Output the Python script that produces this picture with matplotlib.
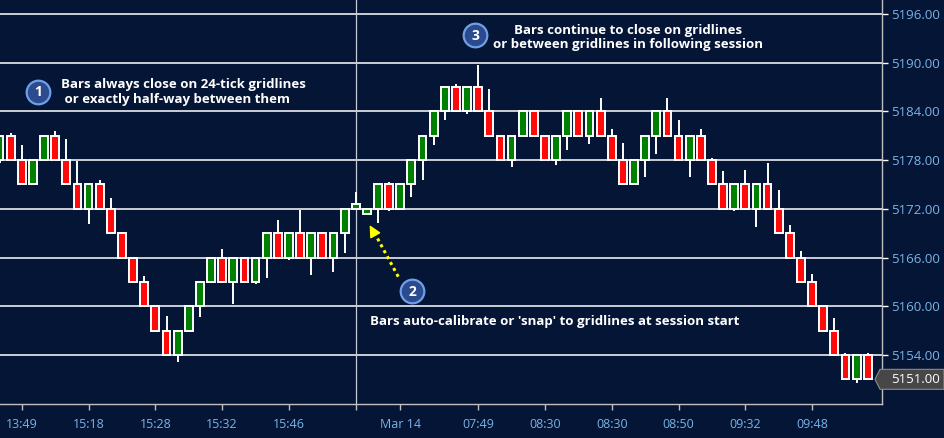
import matplotlib
matplotlib.use('Agg')
import matplotlib.pyplot as plt
import matplotlib.transforms as mtransforms
from matplotlib.patches import Polygon

# bar data (one entry per bar)
opens = [5178, 5181, 5178, 5175, 5178, 5181, 5178, 5175, 5172, 5175,
         5172, 5169, 5166, 5163, 5160, 5157, 5154, 5157, 5160, 5163,
         5166, 5163, 5166, 5163, 5166, 5169, 5166, 5169, 5166, 5169,
         5166, 5169, 5172, 5171.4, 5172, 5175, 5172, 5175, 5178, 5181,
         5184, 5187, 5184, 5187, 5184, 5181, 5178, 5181, 5184, 5181,
         5178, 5181, 5184, 5181, 5184, 5181, 5178, 5175, 5178, 5181,
         5184, 5181, 5178, 5181, 5178, 5175, 5172, 5175, 5172, 5175,
         5172, 5169, 5166, 5163, 5160, 5157, 5154, 5151, 5154]
closes = [5181, 5178, 5175, 5178, 5181, 5178, 5175, 5172, 5175, 5172,
          5169, 5166, 5163, 5160, 5157, 5154, 5157, 5160, 5163, 5166,
          5163, 5166, 5163, 5166, 5169, 5166, 5169, 5166, 5169, 5166,
          5169, 5172, 5172.6, 5172, 5175, 5172, 5175, 5178, 5181, 5184,
          5187, 5184, 5187, 5184, 5181, 5178, 5181, 5184, 5181, 5178,
          5181, 5184, 5181, 5184, 5181, 5178, 5175, 5178, 5181, 5184,
          5181, 5178, 5181, 5178, 5175, 5172, 5175, 5172, 5175, 5172,
          5169, 5166, 5163, 5160, 5157, 5154, 5151, 5154, 5151]
highs = [5181, 5181.3, 5179.8, 5178, 5181, 5181.6, 5180.6, 5177.9, 5175, 5175.6,
         5173.3, 5169, 5166, 5163.7, 5160, 5158.8, 5157, 5160, 5163, 5166,
         5167, 5166, 5166, 5166, 5169, 5170.6, 5169, 5171.9, 5169, 5169,
         5169, 5172, 5174.1, 5172, 5175, 5175.3, 5175, 5178, 5181, 5184,
         5187, 5187.4, 5187, 5189.7, 5186.8, 5181, 5181, 5184, 5184.1, 5181,
         5181, 5184, 5184, 5184, 5185.6, 5181.8, 5180.1, 5178, 5181, 5184,
         5185.6, 5182.9, 5181, 5181.8, 5178.2, 5176.6, 5175, 5176.8, 5175, 5177.6,
         5174.3, 5170, 5166.8, 5164, 5160.2, 5158.5, 5154.2, 5154, 5154.2]
lows = [5177.6, 5178, 5175, 5175, 5178, 5178, 5175, 5172, 5170.1, 5172,
        5169, 5166, 5163, 5160, 5157, 5154, 5153.1, 5157, 5158.7, 5163,
        5163, 5160.3, 5163, 5162.8, 5163.5, 5166, 5165.7, 5166, 5163.8, 5166,
        5164.2, 5166.5, 5171.8, 5171.4, 5170.2, 5171.7, 5172, 5173.4, 5175.6, 5179.8,
        5182.9, 5184, 5183.7, 5184, 5181, 5178, 5177.2, 5181, 5181, 5178,
        5177.4, 5179.3, 5181, 5180, 5181, 5178, 5175, 5175, 5175.9, 5178.8,
        5181, 5178, 5175.9, 5178, 5175, 5172, 5171.7, 5172, 5169.8, 5172,
        5169, 5166, 5163, 5160, 5157, 5154, 5151, 5150.5, 5151]

tick_pos = [2, 8, 14, 20, 26, 32, 36, 43, 49, 55, 61, 67, 73]
tick_labels = ['13:49', '15:18', '15:28', '15:32', '15:46', '', 'Mar 14',
               '07:49', '08:30', '08:30', '08:50', '09:32', '09:48']
price_levels = [5154, 5160, 5166, 5172, 5178, 5184, 5190, 5196]
session_start = 32
last_price = 5151.00

BG = '#051536'
LBL = '#78b4e6'

fig = plt.figure(figsize=(9.44, 4.38), dpi=100, facecolor=BG)
ax = fig.add_axes([0, 34 / 438, 882 / 944, 404 / 438])
ax.set_facecolor(BG)

x = list(range(len(opens)))
cols = ['#008000' if c >= o else '#ff0a0a' for o, c in zip(opens, closes)]
bottoms = [min(o, c) for o, c in zip(opens, closes)]
heights = [abs(c - o) for o, c in zip(opens, closes)]

# gridlines + session divider
for p in price_levels:
    ax.axhline(p, color='white', lw=1.1, zorder=1)
ax.axvline(session_start, color='#c8ccd8', lw=0.9, zorder=1)

ax.vlines(x, lows, highs, color='white', lw=1.4, zorder=2)
ax.bar(x, heights, bottom=bottoms, width=0.7, color=cols,
       edgecolor='white', linewidth=1.4, zorder=3)

ax.set_xlim(0.04, 79.28)
ax.set_ylim(5147.96, 5197.72)

for s in ['top', 'left']:
    ax.spines[s].set_visible(False)
for s in ['right', 'bottom']:
    ax.spines[s].set_color('#c0c0c0')
    ax.spines[s].set_linewidth(1.0)

ax.yaxis.tick_right()
ax.set_yticks(price_levels)
ax.set_yticklabels(['%.2f' % p for p in price_levels])
ax.set_xticks(tick_pos)
ax.set_xticklabels(tick_labels)
ax.tick_params(axis='y', colors='white', labelcolor=LBL, length=4.3, width=1,
               pad=2.5, labelsize=9.5)
ax.tick_params(axis='x', colors='#c0c0c0', labelcolor=LBL, length=4.3, width=1,
               pad=6, labelsize=9)
for t in ax.get_xticklabels() + ax.get_yticklabels():
    t.set_family('Open Sans')

# last price marker on the axis
tr = mtransforms.blended_transform_factory(fig.transFigure, ax.transData)
h = 1.23
box = Polygon([(875 / 944, last_price), (880 / 944, last_price + h), (1.0, last_price + h),
               (1.0, last_price - h), (880 / 944, last_price - h)],
              closed=True, transform=tr, facecolor='#474747', edgecolor='#8c8c8c',
              lw=0.8, clip_on=False, zorder=10)
fig.add_artist(box)
fig.text(891 / 944, last_price, '%.2f' % last_price, transform=tr, color='white',
         fontsize=9.5, family='Open Sans', va='center', ha='left', zorder=11)

# numbered callouts
def badge(xc, yc, num):
    ax.plot(xc, yc, 'o', ms=17, mfc='#2c4a8e', mec='#6f9fe6', mew=1.6, zorder=6)
    ax.text(xc, yc - 0.1, num, color='white', fontsize=10, fontweight='bold',
            family='Open Sans', ha='center', va='center', zorder=7)

tfont = dict(color='white', fontsize=9.5, fontweight='bold', family='Open Sans', zorder=7)

badge(3.48, 5186.43, '1')
ax.text(5.5, 5186.4, 'Bars always close on 24-tick gridlines\n or exactly half-way between them',
        ha='left', va='center', linespacing=1.15, **tfont)

badge(42.71, 5193.41, '3')
ax.text(56.46, 5193.1, 'Bars continue to close on gridlines\nor between gridlines in following session',
        ha='center', va='center', linespacing=1.15, multialignment='center', **tfont)

badge(37.08, 5161.88, '2')
ax.text(49.87, 5158.1, "Bars auto-calibrate or 'snap' to gridlines at session start",
        ha='center', va='center', **tfont)

# dotted yellow pointer to the first bar of the new session
ax.plot([35.82, 33.7], [5163.64, 5169.0], color='#ffff00', lw=2.2, ls=(0, (1, 1.2)),
        zorder=6)
ax.annotate('', xy=(33.13, 5170.29), xytext=(33.85, 5168.5),
            arrowprops=dict(arrowstyle='-|>', color='#ffff00', lw=1,
                            mutation_scale=18), zorder=6)

fig.savefig('out.png', dpi=100, facecolor=BG)
